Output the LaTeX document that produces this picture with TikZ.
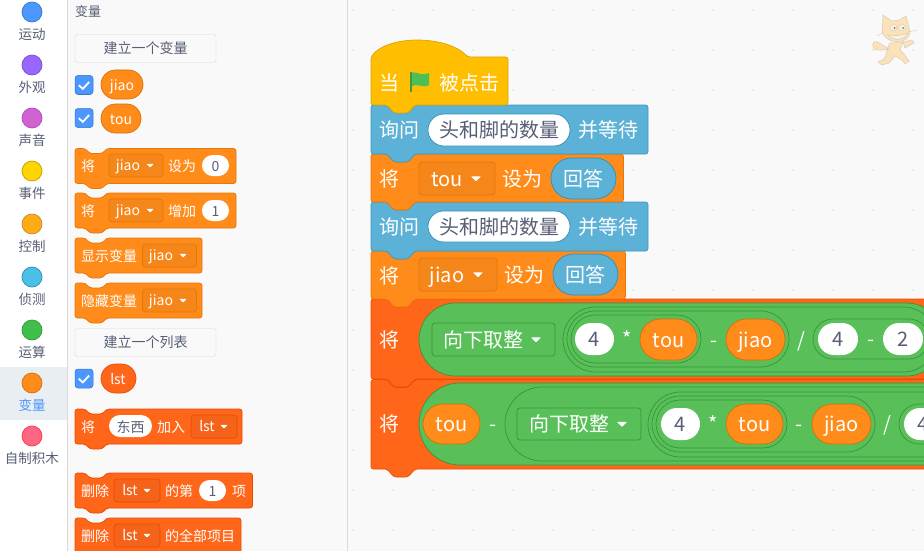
\documentclass[tikz,border=0pt]{standalone}
\usepackage{fontspec}
\setmainfont{Noto Sans CJK SC}
\usetikzlibrary{shapes,positioning}
\definecolor{Ink}{HTML}{575E75}
\definecolor{Rule}{HTML}{D9D9D9}
\definecolor{Paper}{HTML}{F9F9F9}
\definecolor{Picked}{HTML}{E9EEF2}
\definecolor{Var}{HTML}{FF8C1A}
\definecolor{VarEdge}{HTML}{DB6E00}
\definecolor{Lst}{HTML}{FF661A}
\definecolor{LstEdge}{HTML}{E64D00}
\definecolor{Sense}{HTML}{5CB1D6}
\definecolor{SenseEdge}{HTML}{2E8EB8}
\definecolor{Oper}{HTML}{59C059}
\definecolor{OperEdge}{HTML}{389438}
\definecolor{Hat}{HTML}{FFBF00}
\definecolor{HatEdge}{HTML}{CC9900}
\definecolor{Cat}{HTML}{FFAB19}
\definecolor{TickBlue}{HTML}{4C97FF}
\definecolor{TickEdge}{HTML}{3373CC}
\definecolor{Flag}{HTML}{4CBF56}
\definecolor{FlagEdge}{HTML}{45993D}
\tikzstyle{Small} = [inner sep=0, text=white, font=\fontsize{14}{14}\selectfont, text height=12.3pt, text depth=1.7pt]
\tikzstyle{Large} = [inner sep=0, text=white, font=\fontsize{20}{20}\selectfont, text height=17.6pt, text depth=2.4pt]
\tikzstyle{Dark}  = [text=Ink]
\tikzstyle{Side}  = [inner sep=0, text=Ink, font=\fontsize{13.5}{14}\selectfont, text height=11.9pt, text depth=1.6pt]
\tikzstyle{Dot}   = [circle, draw, line width=.7pt, minimum size=20pt, inner sep=0]
\tikzstyle{Button} = [draw=Rule, fill=Paper, rectangle, rounded corners=2.5pt, minimum width=141pt, minimum height=28pt, inner sep=0, text=Ink, font=\fontsize{14}{14}\selectfont, text height=12.3pt, text depth=1.7pt]
\tikzstyle{Pill}  = [rounded rectangle, inner sep=0, line width=.7pt]
\tikzset{
  Size/.style 2 args={minimum width=#1pt, minimum height=#2pt},
  VarBlock/.style={fill=Var, draw=VarEdge!70!Var, line width=.7pt, rounded corners=2.5pt},
  LstBlock/.style={fill=Lst, draw=LstEdge, line width=.7pt, rounded corners=2.5pt},
  AskBlock/.style={fill=Sense, draw=SenseEdge!70!Sense, line width=.7pt, rounded corners=2.5pt},
  HatBlock/.style={fill=Hat, draw=HatEdge!70!Hat, line width=.7pt, rounded corners=2.5pt},
  VarDrop/.style={rectangle, rounded corners=3pt, fill=Var!96!black, draw=VarEdge!75!Var, inner sep=0, line width=.7pt},
  LstDrop/.style={rectangle, rounded corners=3pt, fill=Lst!96!black, draw=LstEdge, inner sep=0, line width=.7pt},
  OperDrop/.style={rectangle, rounded corners=3pt, fill=Oper, draw=OperEdge, inner sep=0, line width=.7pt},
  Input/.style={Pill, fill=white, draw=none},
  VarPill/.style={Pill, fill=Var, draw=VarEdge},
  AskPill/.style={Pill, fill=Sense, draw=SenseEdge},
  Oval/.style={Pill, fill=Oper, draw=OperEdge},
}
% palette sized block: style, x, y, w, h
\newcommand{\smallblock}[5]{\draw[#1] (#2,#3) -- (#2+10,#3) -- (#2+15,#3+5) -- (#2+27,#3+5) -- (#2+32,#3) -- (#2+#4,#3) -- (#2+#4,#3+#5) -- (#2+32,#3+#5) -- (#2+27,#3+#5+5) -- (#2+15,#3+#5+5) -- (#2+10,#3+#5) -- (#2,#3+#5) -- cycle;}
% script sized block
\newcommand{\largeblock}[5]{\draw[#1] (#2,#3) -- (#2+16,#3) -- (#2+23,#3+8) -- (#2+37,#3+8) -- (#2+44,#3) -- (#2+#4,#3) -- (#2+#4,#3+#5) -- (#2+44,#3+#5) -- (#2+37,#3+#5+8) -- (#2+23,#3+#5+8) -- (#2+16,#3+#5) -- (#2,#3+#5) -- cycle;}
% style, name, cx, cy, w, h, text, text x, mark x
\newcommand{\smalldrop}[9]{\node[#1, Size={#5}{#6}] (#2) at (#3,#4) {};
  \node[Small] (#2_text) at (#8,#4) {#7};
  \fill[white, rounded corners=.6pt] (#9-3.6,#4-1.6) -- (#9+3.6,#4-1.6) -- (#9,#4+2) -- cycle;}
\newcommand{\largedrop}[9]{\node[#1, Size={#5}{#6}] (#2) at (#3,#4) {};
  \node[Large] (#2_text) at (#8,#4) {#7};
  \fill[white, rounded corners=.6pt] (#9-5,#4-2.2) -- (#9+5,#4-2.2) -- (#9,#4+2.8) -- cycle;}
\newcommand{\tickbox}[3]{\node[rectangle, inner sep=0, rounded corners=3pt, Size={18}{19}, fill=TickBlue, draw=TickEdge, line width=.5pt] (#1) at (#2,#3) {};
  \draw[white, line width=1.8pt] (#2-5.2,#3+.2) -- (#2-1.2,#3+3.9) -- (#2+5.2,#3-3);}
\begin{document}
\begin{tikzpicture}[x=1pt,y=-1pt]
    \clip (0,0) rectangle (924,551);
    \fill[white] (0,0) rectangle (68,551);
    \fill[Paper] (68,0) rectangle (924,551);
    \fill[Picked] (0,367) rectangle (67,420);
    \foreach \x in {353,393,...,913}
      \foreach \y in {10,50,...,530}
        \fill[Rule!80!white] (\x,\y) circle (1);
    \draw[Rule] (67.5,0) -- (67.5,551);
    \draw[Rule] (347.5,0) -- (347.5,551);
    % categories
    \foreach \nm/\fillc/\edgec/\txt [count=\i] in {%
        move/4C97FF/3373CC/运动, look/9966FF/774DCB/外观, sound/CF63CF/BD42BD/声音,
        event/FFD500/CC9900/事件, ctrl/FFAB19/CF8B17/控制, sense/4CBFE6/2E8EB8/侦测,
        oper/40BF4A/389438/运算, data/FF8C1A/DB6E00/变量, own/FF6680/FF3355/自制积木} {
      \definecolor{dotfill}{HTML}{\fillc}
      \definecolor{dotedge}{HTML}{\edgec}
      \node[Dot, fill=dotfill, draw=dotedge] (c_\nm) at (32,{12+53*(\i-1)}) {};
      \ifnum\i=8
        \node[Side, text=TickBlue] (t_\nm) at (32,{34+53*(\i-1)}) {\txt};
      \else
        \node[Side] (t_\nm) at (32,{34+53*(\i-1)}) {\txt};
      \fi
    }
    % palette
    \node[Side, anchor=west, font=\fontsize{13}{13}\selectfont] (p_title) at (75,11) {变量};
    \node[Button] (p_newvar) at (145.5,48.5) {建立一个变量};
    \tickbox{k_jiao}{84}{85}
    \tickbox{k_tou}{84}{118}
    \node[VarPill, Size={42}{29}] (r_jiao) at (122,84.5) {};
    \node[Small] at (122,85) {jiao};
    \node[VarPill, Size={40}{29}] (r_tou) at (121,118.5) {};
    \node[Small] at (121,119) {tou};

    \smallblock{VarBlock}{75}{148.5}{161}{35}
    \node[Small] at (88,166) {将};
    \smalldrop{VarDrop}{d_set}{136}{165.5}{54}{23}{jiao}{128}{150}
    \node[Small] (l_set) at (182,166) {设为};
    \node[Input, Size={27}{21}] (i_zero) at (215.5,165.5) {};
    \node[Small, Dark] at (215.5,166) {0};

    \smallblock{VarBlock}{75}{193}{161}{35}
    \node[Small] at (88,211) {将};
    \smalldrop{VarDrop}{d_add}{136}{210.5}{54}{23}{jiao}{128}{150}
    \node[Small] (l_add) at (182,211) {增加};
    \node[Input, Size={27}{21}] (i_one) at (215.5,210.5) {};
    \node[Small, Dark] at (215.5,211) {1};

    \smallblock{VarBlock}{75}{238}{127}{35}
    \node[Small] (l_show) at (109,256) {显示变量};
    \smalldrop{VarDrop}{d_show}{169.5}{255.5}{54}{23}{jiao}{161}{183}

    \smallblock{VarBlock}{75}{283}{127}{35}
    \node[Small] (l_hide) at (109,301) {隐藏变量};
    \smalldrop{VarDrop}{d_hide}{169.5}{300.5}{54}{23}{jiao}{161}{183}

    \node[Button] (p_newlist) at (145.5,342.5) {建立一个列表};
    \tickbox{k_lst}{84}{378.5}
    \node[Pill, fill=Lst, draw=LstEdge, Size={35}{29}] (r_lst) at (118.5,378.5) {};
    \node[Small] at (118,379) {lst};

    \smallblock{LstBlock}{75}{409}{167}{35}
    \node[Small] at (88,427) {将};
    \node[Input, Size={43}{22}] (i_thing) at (130.5,426) {};
    \node[Small, Dark] at (130.5,427) {东西};
    \node[Small] (l_join) at (171,427) {加入};
    \smalldrop{LstDrop}{d_join}{214}{426.5}{46}{23}{lst}{207}{224}

    \smallblock{LstBlock}{75}{473}{177.5}{35}
    \node[Small] (l_del) at (95,491) {删除};
    \smalldrop{LstDrop}{d_del}{137}{490.5}{46}{23}{lst}{130}{147}
    \node[Small] (l_nth) at (179,491) {的第};
    \node[Input, Size={27}{21}] (i_nth) at (212.5,490.5) {};
    \node[Small, Dark] at (212.5,491) {1};
    \node[Small] (l_item) at (239,491) {项};

    \smallblock{LstBlock}{75}{518}{166}{50}
    \node[Small] (l_all) at (95,536) {删除};
    \smalldrop{LstDrop}{d_all}{137}{535.5}{46}{23}{lst}{130}{147}
    \node[Small] (l_allitems) at (200,536) {的全部项目};

    % script, last block first
    \largeblock{LstBlock}{371}{379.5}{700}{89.5}
    \node[Large] at (389,424) {将};
    \node[Oval, Size={700}{82}] (g_tou) at (769,424) {};
    \node[VarPill, Size={57}{40}] (r_tou3) at (451.5,424) {};
    \node[Large] at (451.5,424) {tou};
    \node[Large] at (493,424) {-};
    \node[Oval, Size={600}{74}] (g_floor) at (805,424) {};
    \largedrop{OperDrop}{d_floor2}{579}{424}{124}{32}{向下取整}{569}{622}
    \node[Oval, Size={500}{65}] (g_a2) at (898,424.5) {};
    \node[Oval, Size={223}{56}] (g_b2) at (763.5,424) {};
    \node[Oval, Size={131}{48}] (g_c2) at (721.5,424) {};
    \node[Input, Size={39}{32}] (i_four3) at (680.5,424) {};
    \node[Large, Dark] at (680.5,424) {4};
    \node[Large] at (713,424) {*};
    \node[VarPill, Size={57}{40}] (r_tou4) at (754.5,424) {};
    \node[Large] at (754.5,424) {tou};
    \node[Large] at (799,424) {-};
    \node[VarPill, Size={59}{40}] (r_jiao3) at (841.5,424) {};
    \node[Large] at (841.5,424) {jiao};
    \node[Large] at (887,424) {/};
    \node[Oval, Size={80}{40}] (g_d2) at (939,424) {};
    \node[Input, Size={39}{32}] (i_four4) at (923.5,424) {};
    \node[Large, Dark] at (923.5,424) {4};

    \largeblock{LstBlock}{371}{299}{700}{80}
    \node[Large] at (389,339.5) {将};
    \node[Oval, Size={524}{73}] (g_floor1) at (681,339.5) {};
    \largedrop{OperDrop}{d_floor1}{493.5}{339.5}{123}{33}{向下取整}{483}{536}
    \node[Oval, Size={373}{65}] (g_a1) at (749.5,339.5) {};
    \node[Oval, Size={222}{56}] (g_b1) at (678,339) {};
    \node[Oval, Size={130}{48}] (g_c1) at (636,339) {};
    \node[Input, Size={39}{32}] (i_four1) at (594.5,339) {};
    \node[Large, Dark] at (594.5,339) {4};
    \node[Large] at (627,339) {*};
    \node[VarPill, Size={57}{41}] (r_tou2) at (668.5,339.5) {};
    \node[Large] at (668.5,339.5) {tou};
    \node[Large] at (714,339.5) {-};
    \node[VarPill, Size={59}{41}] (r_jiao2) at (755.5,339.5) {};
    \node[Large] at (755.5,339.5) {jiao};
    \node[Large] at (801,339.5) {/};
    \node[Oval, Size={116}{40}] (g_d1) at (871,339) {};
    \node[Input, Size={40}{32}] (i_four2) at (838,339) {};
    \node[Large, Dark] at (838,339) {4};
    \node[Large] at (871,339) {-};
    \node[Input, Size={40}{32}] (i_two) at (903,339) {};
    \node[Large, Dark] at (903,339) {2};

    \largeblock{VarBlock}{371}{251}{254.5}{48}
    \node[Large] at (389,276) {将};
    \largedrop{VarDrop}{d_jiao}{458}{274.5}{78}{33}{jiao}{447}{478}
    \node[Large] (l_setj) at (524,275) {设为};
    \node[AskPill, Size={65}{41}] (r_ans2) at (585.5,274.5) {};
    \node[Large] at (585.5,275) {回答};

    \largeblock{AskBlock}{371}{202}{277}{49}
    \node[Large] (l_ask2) at (399,227) {询问};
    \node[Input, draw=SenseEdge, Size={142}{31}] (i_ask2) at (499,226.5) {};
    \node[Large, Dark] at (499,227) {头和脚的数量};
    \node[Large] (l_wait2) at (608,227) {并等待};

    \largeblock{VarBlock}{371}{154}{252.5}{48}
    \node[Large] at (389,179) {将};
    \largedrop{VarDrop}{d_tou}{457}{178.5}{76}{33}{tou}{447}{476}
    \node[Large] (l_sett) at (522,179) {设为};
    \node[AskPill, Size={65}{41}] (r_ans1) at (583.5,178.5) {};
    \node[Large] at (583.5,179) {回答};

    \largeblock{AskBlock}{371}{105}{277}{49}
    \node[Large] (l_ask1) at (399,130) {询问};
    \node[Input, draw=SenseEdge, Size={142}{32}] (i_ask1) at (499,130) {};
    \node[Large, Dark] at (499,130) {头和脚的数量};
    \node[Large] (l_wait1) at (608,130) {并等待};

    \draw[HatBlock] (371,57) .. controls (388,35) and (446,35) .. (468,57) -- (508,57) -- (508,105) -- (415,105) -- (408,113) -- (394,113) -- (387,105) -- (371,105) -- cycle;
    \node[Large] (l_when) at (389,83) {当};
    \node[Large] (l_click) at (469,83) {被点击};
    \fill[Flag] (411,73) .. controls (416,70) and (420,77) .. (429,73) -- (429,85) .. controls (422,89) and (417,82) .. (411,87) -- cycle;
    \draw[FlagEdge, line width=1.6pt] (411,72) -- (411,92);

    % sprite
    \begin{scope}[opacity=.5, line width=.5pt, draw=Ink!50!white]
      \draw[fill=Cat!60!white] (881,44) .. controls (873,38) and (871,44) .. (874,49) .. controls (879,51) and (885,50) .. (889,49) -- cycle;
      \draw[fill=Cat!60!white] (890,43) .. controls (886,50) and (887,55) .. (884,59) -- (878,62) -- (882,65) -- (889,63) -- (895,56) -- (902,60) -- (905,64) -- (909,61) -- (904,54) -- (900,50) -- (903,42) -- cycle;
      \draw[fill=Cat!60!white] (903,42) -- (912,40) -- (914,43) -- (905,48) -- cycle;
      \draw[fill=Cat!60!white] (882,30) -- (883,15) -- (892,21) -- (899,20) -- (906,16) -- (910,31) .. controls (911,45) and (884,46) .. (882,30) -- cycle;
      \draw[fill=white] (888,35) .. controls (894,42) and (905,40) .. (908,33) .. controls (902,36) and (894,36) .. (888,35) -- cycle;
      \draw[fill=white] (893.5,27.5) circle (3.5);
      \draw[fill=white] (902,27.5) circle (3.5);
      \fill[black] (894.5,28) circle (1);
      \fill[black] (903,28) circle (1);
      \draw (908,32) -- (917,30);
      \draw (883,33) -- (877,36);
    \end{scope}
  \end{tikzpicture}
\end{document}
